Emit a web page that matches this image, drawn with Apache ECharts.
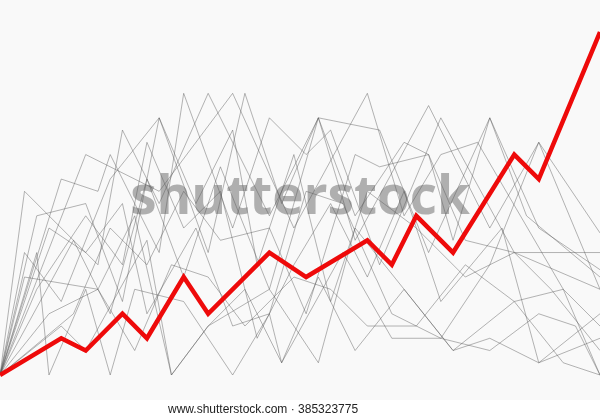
<!DOCTYPE html>
<html>
<head>
<meta charset="utf-8">
<script src="https://cdn.jsdelivr.net/npm/echarts@6/dist/echarts.min.js"></script>
<style>html,body{margin:0;padding:0;background:#fff}#c{width:600px;height:420px}</style>
</head>
<body>
<div id="c"></div>
<script>
// Red highlighted line: [x step, level]
const redLine = [[0,0],[5,3],[7,2],[10,5],[12,3],[15,8],[17,5],[22,10],[25,8],[30,11],[32,9],[34,13],[37,10],[42,18],[44,16],[49,28]];

// Grey background lines
const grey1  = [[0,0],[2,15],[8,9],[10,20],[13,14],[17,23],[22,13],[26,21],[29,11],[35,22],[40,12],[44,19],[49,11.6]];
const grey2  = [[0,0],[5,16],[8,15],[9,18],[13,10],[15,23],[19,12],[22,21],[25,18],[27,20],[31,9],[36,21],[42,10],[49,7]];
const grey3  = [[0,0],[7,18],[13,15],[19,23],[24,12],[30,23],[33,13],[36,18],[39,19],[46,7],[49,4]];
const grey4  = [[0,0],[3,13],[7,14],[10,6],[13,21],[17,10],[20,23],[23,14],[26,21],[31,20],[35,10],[40,21],[44,12],[49,8.6]];
const grey5  = [[0,0],[2,8],[8,7],[11,13],[14,0],[17,4],[22,7],[26,1],[29,12],[33,7],[37,2],[42,6],[46,7],[49,0]];
const grey6  = [[0,0],[3,10],[4,0],[7,7],[9,0],[11,7],[15,6],[19,0],[22,5],[23,1],[26,8],[29,2],[33,7],[37,2],[40,3],[44,1],[49,5]];
const grey7  = [[0,0],[5,4],[7,2],[12,11],[14,0],[17,4],[20,7],[23,1],[28,10],[32,3],[36,3],[40,2],[44,5],[47,4],[49,0]];
const grey8  = [[0,0],[6,11],[9,5],[12,16],[15,8],[18,17],[22,7],[26,21],[29,13],[33,19],[35,18],[38,11],[42,10],[49,10]];
const grey9  = [[0,0],[4,12],[7,10],[10,14],[12,5],[16,12],[19,4],[22,5],[25,15],[28,14],[32,5],[36,3],[40,9],[44,19],[49,7]];
const grey10 = [[0,0],[2,10],[5,6],[9,16],[13,21],[16,14],[19,20],[21,9],[24,18],[27,6],[30,15],[34,12],[38,8],[42,10],[45,7],[49,2]];
const grey11 = [[0,0],[6,5],[9,12],[12,9],[15,15],[18,11],[22,12],[25,5],[29,18],[31,17],[35,18],[37,11],[40,21],[43,13],[49,8]];
const grey12 = [[0,0],[3,7],[7,13],[10,9],[12,19],[15,12],[18,15],[21,3],[24,9],[27,14],[30,8],[33,15],[36,6],[41,12],[44,1],[49,3]];
const grey13 = [[0,0],[4,5],[8,7],[11,2],[14,9],[17,8],[20,4],[24,8],[27,7],[30,4],[34,4],[38,9],[42,6],[46,1],[49,0]];
const greyLines = [grey1,grey2,grey3,grey4,grey5,grey6,grey7,grey8,grey9,grey10,grey11,grey12,grey13];

const watermark = 'shutterstock';
const footer = 'www.shutterstock.com · 385323775';

const chart = echarts.init(document.getElementById('c'), null, {renderer:'canvas'});
const series = greyLines.map(d => ({
  type:'line', data:d, symbol:'none', silent:true, z:3,
  lineStyle:{color:'rgba(90,90,90,0.45)', width:1}
}));
series.push({type:'line', data:redLine, symbol:'none', z:5,
  lineStyle:{color:'#ee0a0a', width:4.5, join:'miter'}});

chart.setOption({
  backgroundColor:'#ffffff',
  animation:false,
  grid:{left:0, right:0, top:0, height:400},
  xAxis:{type:'value', min:0, max:49, show:false},
  yAxis:{type:'value', min:-2.04, max:30.62, show:false},
  graphic:[
    {type:'rect', shape:{x:0,y:0,width:600,height:400}, style:{fill:'#f9f9f9'}, z:-10},
    {type:'text', left:'center', top:172, z:1, style:{text:watermark, fill:'rgba(150,150,150,0.75)', font:'bold 53px "Open Sans", "DejaVu Sans", sans-serif'}},
    {type:'text', x:168, y:404, z:10, style:{text:footer, fill:'#222', font:'12px "Liberation Sans Narrow", "Liberation Sans", sans-serif'}}
  ],
  series:series
});
</script>
</body>
</html>
